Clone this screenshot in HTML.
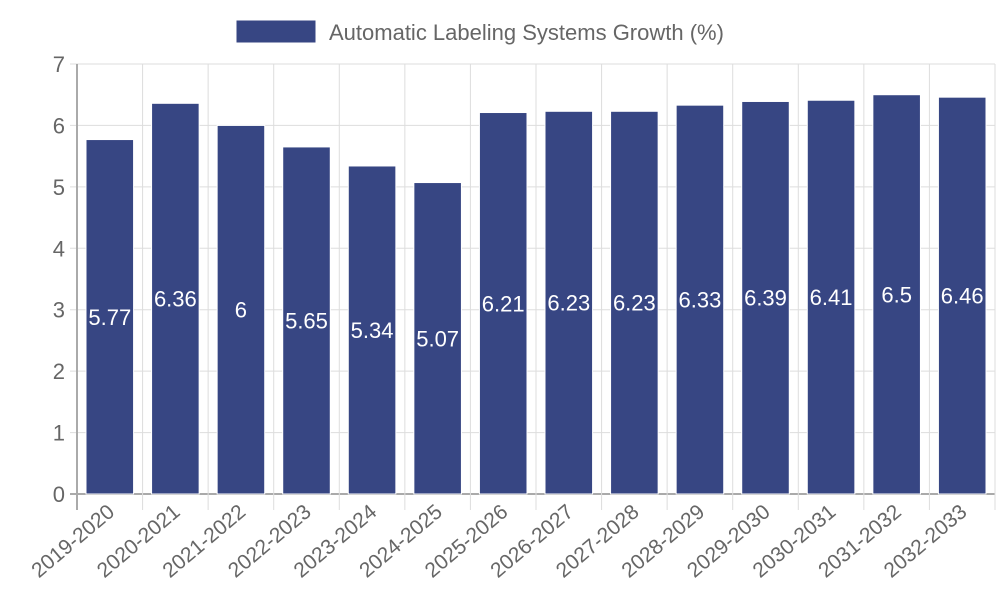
<!DOCTYPE html>
<html><head><meta charset="utf-8"><style>
body{margin:0;background:#fff;font-family:"Liberation Sans",sans-serif}
svg text{font-family:"Liberation Sans",sans-serif}
</style></head><body>
<svg width="1000" height="600">
<g>
<rect x="236" y="20" width="80" height="23" fill="#374683" stroke="#fff"/>
<text x="329" y="40" font-size="22" fill="#666">Automatic Labeling Systems Growth (%)</text>
</g>
<g id="grid"></g>
<g id="bars"></g>
<g id="axes"></g>
</svg>
<script>
const categories=["2019-2020","2020-2021","2021-2022","2022-2023","2023-2024","2024-2025","2025-2026","2026-2027","2027-2028","2028-2029","2029-2030","2030-2031","2031-2032","2032-2033"];
const values=[5.77,6.36,6,5.65,5.34,5.07,6.21,6.23,6.23,6.33,6.39,6.41,6.5,6.46];
const yTicks=[0,1,2,3,4,5,6,7];
const L=77,R=995,T=64,B=494,yMax=7;
const ns="http://www.w3.org/2000/svg";
const bw=(R-L)/categories.length;
const y=v=>B-(v/yMax)*(B-T);
const x=i=>L+i*bw;
function mk(t,a,p){const e=document.createElementNS(ns,t);for(const k in a)e.setAttribute(k,a[k]);p.appendChild(e);return e;}
const grid=document.getElementById('grid'),bars=document.getElementById('bars'),axes=document.getElementById('axes');
yTicks.forEach(t=>{
 const l=mk('line',{x1:L-7,x2:R,y1:y(t),y2:y(t),stroke:t===0?'#aaa':'#ddd','stroke-width':t===0?2:1},grid);
 
 
 const tx=mk('text',{x:L-12,y:y(t)+8,'text-anchor':'end','font-size':22,fill:'#666'},axes);
 tx.textContent=t;
 
 
});
for(let i=0;i<=categories.length;i++){
 const l=mk('line',{x1:x(i),x2:x(i),y1:T,y2:B+16,stroke:i===0?'#aaa':'#ddd','stroke-width':i===0?2:1},grid);
 
 
}
categories.forEach((c,i)=>{
 const bx=x(i)+9,w=bw-18,top=y(values[i]);
 const r=mk('rect',{x:bx,y:top,width:w,height:B-top,fill:'#374683',stroke:'#fff','stroke-width':1},bars);
 
 
 const lb=mk('text',{x:bx+w/2,y:(top+B)/2+8,'text-anchor':'middle','font-size':22,fill:'#fff'},bars);
 lb.textContent=values[i];
 
 
 const cx=x(i)+bw/2+6,cy=B+20;
 const tx=mk('text',{x:cx,y:cy,'text-anchor':'end','font-size':21,fill:'#666',transform:`rotate(-40 ${cx} ${cy})`},axes);
 tx.textContent=c;
 
 
});
</script>
</body></html>
